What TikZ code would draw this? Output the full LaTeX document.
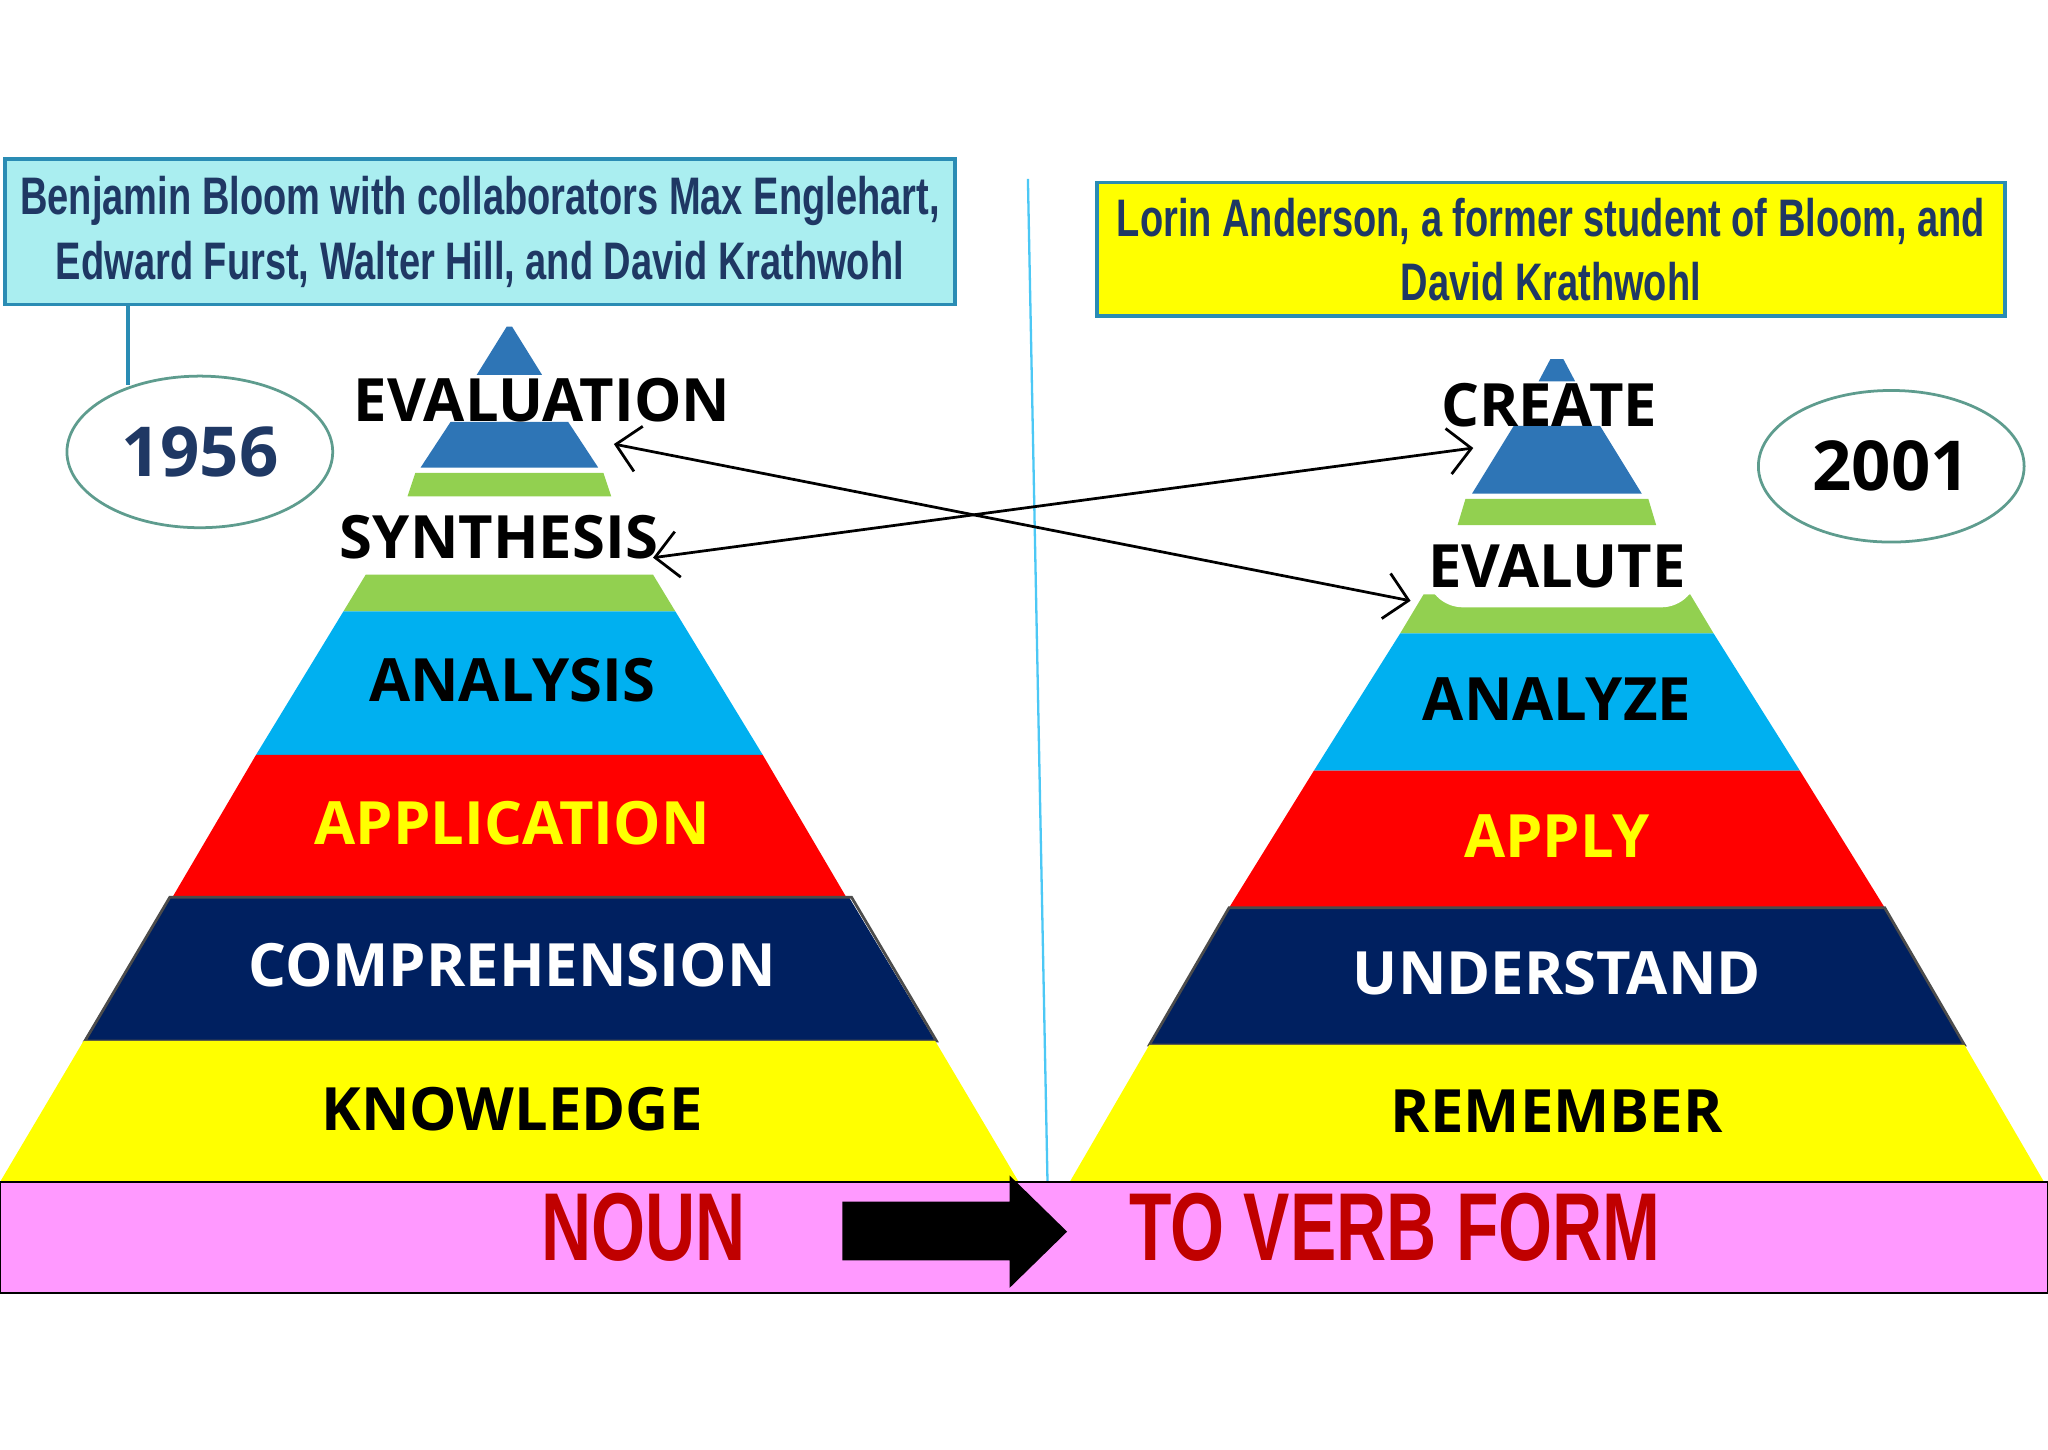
\documentclass[tikz,border=0pt]{standalone}
\usepackage{fontspec}
\setmainfont{Open Sans}
\newfontfamily\cond[FakeStretch=0.72]{Liberation Sans}
\usetikzlibrary{arrows.meta}
\definecolor{topblue}{HTML}{2E75B6}
\definecolor{lgreen}{HTML}{92D050}
\definecolor{cyanb}{HTML}{00B0F0}
\definecolor{navyb}{HTML}{002060}
\definecolor{yel}{HTML}{FFFF00}
\definecolor{txtnavy}{HTML}{1F3864}
\definecolor{callcyan}{HTML}{AAEEF0}
\definecolor{callbord}{HTML}{2A8CB4}
\definecolor{ellb}{HTML}{5E9C8E}
\definecolor{pinkb}{HTML}{FF99FF}
\definecolor{dred}{HTML}{C00000}
\newcommand\trap[6]{\fill[#6] ({#3-#4},#1) -- ({#3+#4},#1) -- ({#3+#5},#2) -- ({#3-#5},#2) -- cycle;}
\tikzset{lvl/.style={font=\bfseries\fontsize{13}{15}\selectfont},
 call/.style={draw=callbord,line width=0.8pt,font=\cond\bfseries\fontsize{11.5}{14}\selectfont,text=txtnavy,align=center},
 yr/.style={draw=ellb,ellipse,line width=0.6pt,font=\bfseries\fontsize{15}{18}\selectfont},
 big/.style={font=\cond\bfseries\fontsize{21}{24}\selectfont,text=dred},
 dbl/.style={{Straight Barb[length=5pt]}-{Straight Barb[length=5pt]},line width=0.6pt}}
\usetikzlibrary{shapes.geometric}
\begin{document}
\begin{tikzpicture}[x=0.01cm,y=-0.01cm]
\useasboundingbox[fill=white] (0,0) rectangle (1568,1110);
% left pyramid (center 390)
\trap{250}{287}{390}{2}{25}{topblue}
\trap{323}{358}{390}{45}{68}{topblue}
\trap{362}{380}{390}{72}{78}{lgreen}
\trap{440}{468}{390}{110}{127}{lgreen}
\trap{468}{578}{390}{127}{194}{cyanb}
\trap{578}{687}{390}{194}{258}{red}
\trap{687}{797}{390}{260}{326}{navyb}
\draw[black!70,line width=0.6pt] (130,687)--(652,687)--(717,797)--(65,797)--cycle;
\trap{797}{905}{390}{326}{390}{yel}
% right pyramid (center 1192)
\trap{275}{292}{1192}{5}{14}{topblue}
\trap{326}{378}{1192}{33}{65}{topblue}
\trap{382}{402}{1192}{70}{76}{lgreen}
\trap{455}{485}{1192}{102}{120}{lgreen}
\fill[white,rounded corners=8pt] (1092,415) rectangle (1300,465);
\trap{485}{590}{1192}{120}{186}{cyanb}
\trap{590}{695}{1192}{186}{251}{red}
\trap{695}{800}{1192}{251}{312}{navyb}
\draw[black!70,line width=0.6pt] (941,695)--(1443,695)--(1504,800)--(880,800)--cycle;
\trap{800}{905}{1192}{312}{373}{yel}
% labels
\node[lvl] (eval) at (415,306) {EVALUATION};
\node[lvl] (synth) at (382,411) {SYNTHESIS};
\node[lvl] (anal) at (392,521) {ANALYSIS};
\node[lvl,text=yel] (appl) at (392,630) {APPLICATION};
\node[lvl,text=white] (comp) at (392,739) {COMPREHENSION};
\node[lvl] (know) at (392,849) {KNOWLEDGE};
\node[lvl] (create) at (1186,310) {CREATE};
\node[lvl] (evalu) at (1192,434) {EVALUTE};
\node[lvl] (analyze) at (1192,535) {ANALYZE};
\node[lvl,text=yel] (apply) at (1192,640) {APPLY};
\node[lvl,text=white] (under) at (1192,745) {UNDERSTAND};
\node[lvl] (remem) at (1192,851) {REMEMBER};
% divider
\draw[cyanb!70,line width=0.5pt] (787,137) -- (802,905);
% callouts
\node[call,fill=callcyan,minimum width=6.95cm,minimum height=1.11cm] (lbox) at (367.5,177.5) {Benjamin Bloom with collaborators Max Englehart,\\Edward Furst, Walter Hill, and David Krathwohl};
\node[call,fill=yel,minimum width=6.95cm,minimum height=1.0cm] (rbox) at (1187.5,191) {Lorin Anderson, a former student of Bloom, and\\David Krathwohl};
\node[yr,minimum width=1.96cm,minimum height=1.16cm,text=txtnavy] (y1) at (153,346) {1956};
\node[yr,minimum width=1.96cm,minimum height=1.16cm] (y2) at (1448,357) {2001};
\draw[callbord,line width=0.8pt] (lbox.south -| 98,0) -- (98,295);
% cross arrows
\coordinate (a1) at (470,340); \coordinate (b1) at (1080,460);
\coordinate (a2) at (500,427); \coordinate (b2) at (1128,343);
\draw[dbl] (a1) -- (b1);
\draw[dbl] (a2) -- (b2);
% bottom band
\draw[fill=pinkb,line width=0.6pt] (0,905) rectangle (1568,990);
\node[big] (noun) at (493,940) {NOUN};
\node[big] (verb) at (1068,940) {TO VERB FORM};
\fill[black] (645,920) -- (773,920) -- (773,900) -- (817,943) -- (773,986) -- (773,965) -- (645,965) -- cycle;
\end{tikzpicture}
\end{document}
